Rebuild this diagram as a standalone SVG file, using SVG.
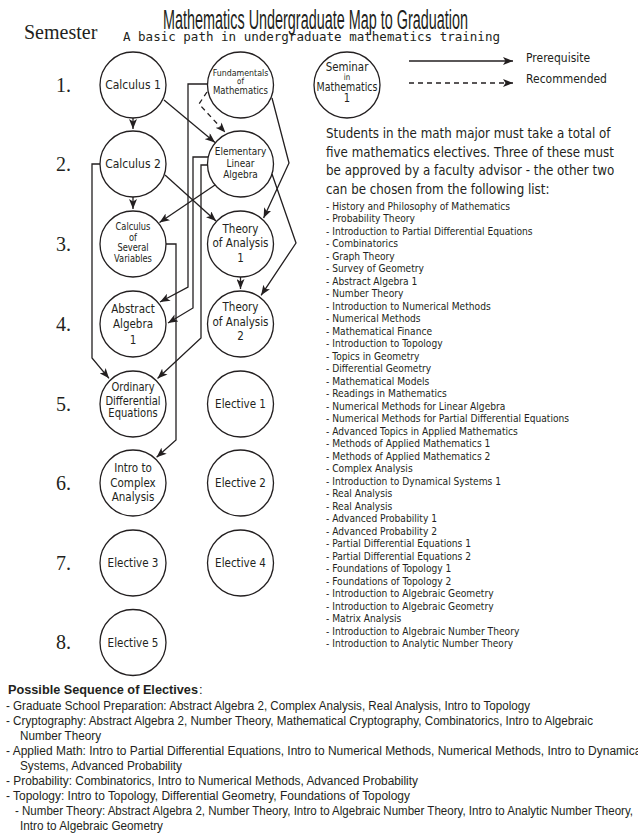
<svg xmlns="http://www.w3.org/2000/svg" width="638" height="834" viewBox="0 0 638 834">
<style>
.bg{fill:#fff}
.node circle{fill:#fff;stroke:#231f20;stroke-width:1.3}
.lbl{font-family:"DejaVu Sans",Verdana,sans-serif;text-anchor:middle;fill:#231f20}
.conn path{fill:none;stroke:#231f20;stroke-width:1.3;marker-end:url(#ah)}
.conn .dash{stroke-dasharray:5,4}
.num{font-family:"Liberation Serif","Times New Roman",serif;font-size:20px;fill:#231f20}
.txt{font-family:"DejaVu Sans",Verdana,sans-serif;fill:#231f20}
.bot{font-family:"Liberation Sans",Arial,sans-serif;font-size:12px;fill:#231f20}
</style>
<defs>
<marker id="ah" viewBox="0 0 10 8" refX="10" refY="4" markerUnits="userSpaceOnUse" markerWidth="10" markerHeight="8" orient="auto">
<path d="M0,0 L10,4 L0,8 L2.5,4 z" fill="#231f20"/>
</marker>
</defs>
<rect class="bg" x="0" y="0" width="638" height="834"/>

<g id="header">
<text x="163" y="29" font-family="'Liberation Sans Narrow','Liberation Sans',Arial,sans-serif" font-size="27" textLength="305" lengthAdjust="spacingAndGlyphs" fill="#231f20">Mathematics Undergraduate Map to Graduation</text>
<text x="123" y="41" font-family="'DejaVu Sans Mono','Liberation Mono',monospace" font-size="12.5" textLength="377" lengthAdjust="spacingAndGlyphs" fill="#231f20">A basic path in undergraduate mathematics training</text>
<text x="24" y="39" font-family="'Liberation Serif','Times New Roman',serif" font-size="20" fill="#231f20">Semester</text>
</g>

<g id="semesters">
<text class="num" x="56" y="92">1.</text>
<text class="num" x="56" y="171">2.</text>
<text class="num" x="56" y="251">3.</text>
<text class="num" x="56" y="331">4.</text>
<text class="num" x="56" y="411">5.</text>
<text class="num" x="56" y="490">6.</text>
<text class="num" x="56" y="570">7.</text>
<text class="num" x="56" y="649">8.</text>
</g>

<g id="connectors" class="conn">
<path d="M133,118 L133,129"/>
<path d="M164,100 L215,142.5"/>
<path class="dash" d="M207,92 L199,104 L225.4,132.5"/>
<path d="M208,84 L188,84 L188,287 L160,302"/>
<path d="M272,98 L289,163 L263.6,218"/>
<path d="M208.3,157 L193,157 L193,308 L168,323"/>
<path d="M207.5,165 L201,165 L201,338 L157.5,378.4"/>
<path d="M215,185 L159.5,222.5"/>
<path d="M165,175 L216,221"/>
<path d="M133,197 L133,209"/>
<path d="M100,164 L92,164 L92,358 L109,378.3"/>
<path d="M166,244 L176,244 L176,440 L156.6,457.3"/>
<path d="M272,174 L296,243 L261.1,295.3"/>
<path d="M240.5,277 L240.5,289"/>
</g>

<g id="calc1" class="node"><circle cx="133" cy="85" r="33"/>
<g class="lbl" transform="translate(133 0) scale(0.83 1)"><text x="0" y="89.5" font-size="13">Calculus 1</text></g></g>

<g id="fundamentals" class="node"><circle cx="240.5" cy="85" r="33"/>
<g class="lbl" transform="translate(240.5 0) scale(0.83 1)">
<text x="0" y="76" font-size="9.5">Fundamentals</text>
<text x="0" y="84.5" font-size="8.5">of</text>
<text x="0" y="94.5" font-size="10.3">Mathematics</text></g></g>

<g id="seminar" class="node"><circle cx="347" cy="85" r="33"/>
<g class="lbl" transform="translate(347 0) scale(0.83 1)">
<text x="0" y="71" font-size="12.4">Seminar</text>
<text x="0" y="80.5" font-size="8.5">in</text>
<text x="0" y="91.5" font-size="11.4">Mathematics</text>
<text x="0" y="102" font-size="12">1</text></g></g>

<g id="calc2" class="node"><circle cx="133" cy="164" r="33"/>
<g class="lbl" transform="translate(133 0) scale(0.83 1)"><text x="0" y="168.5" font-size="13">Calculus 2</text></g></g>

<g id="linalg" class="node"><circle cx="240.5" cy="164" r="33"/>
<g class="lbl" transform="translate(240.5 0) scale(0.83 1)">
<text x="0" y="155" font-size="10.8">Elementary</text>
<text x="0" y="167.5" font-size="10.8">Linear</text>
<text x="0" y="178" font-size="10.8">Algebra</text></g></g>

<g id="csv" class="node"><circle cx="133" cy="244" r="33"/>
<g class="lbl" transform="translate(133 0) scale(0.83 1)">
<text x="0" y="230.5" font-size="10">Calculus</text>
<text x="0" y="241.5" font-size="10">of</text>
<text x="0" y="251" font-size="10">Several</text>
<text x="0" y="262" font-size="10">Variables</text></g></g>

<g id="toa1" class="node"><circle cx="240.5" cy="244" r="33"/>
<g class="lbl" transform="translate(240.5 0) scale(0.83 1)">
<text x="0" y="233.5" font-size="12.5">Theory</text>
<text x="0" y="247.5" font-size="12.5">of Analysis</text>
<text x="0" y="262.5" font-size="12.5">1</text></g></g>

<g id="algebra1" class="node"><circle cx="133" cy="324" r="33"/>
<g class="lbl" transform="translate(133 0) scale(0.83 1)">
<text x="0" y="313.5" font-size="12.5">Abstract</text>
<text x="0" y="328.5" font-size="12.5">Algebra</text>
<text x="0" y="344.5" font-size="12.5">1</text></g></g>

<g id="toa2" class="node"><circle cx="240.5" cy="324" r="33"/>
<g class="lbl" transform="translate(240.5 0) scale(0.83 1)">
<text x="0" y="311.5" font-size="12.5">Theory</text>
<text x="0" y="326" font-size="12.5">of Analysis</text>
<text x="0" y="340.5" font-size="12.5">2</text></g></g>

<g id="ode" class="node"><circle cx="133" cy="404" r="33"/>
<g class="lbl" transform="translate(133 0) scale(0.83 1)">
<text x="0" y="391" font-size="12">Ordinary</text>
<text x="0" y="405" font-size="12">Differential</text>
<text x="0" y="417.5" font-size="12">Equations</text></g></g>

<g id="elective1" class="node"><circle cx="240.5" cy="404" r="33"/>
<g class="lbl" transform="translate(240.5 0) scale(0.83 1)"><text x="0" y="408.5" font-size="12.5">Elective 1</text></g></g>

<g id="complex" class="node"><circle cx="133" cy="483" r="33"/>
<g class="lbl" transform="translate(133 0) scale(0.83 1)">
<text x="0" y="472.5" font-size="12.5">Intro to</text>
<text x="0" y="487.5" font-size="12.5">Complex</text>
<text x="0" y="501" font-size="12.5">Analysis</text></g></g>

<g id="elective2" class="node"><circle cx="240.5" cy="483" r="33"/>
<g class="lbl" transform="translate(240.5 0) scale(0.83 1)"><text x="0" y="487.5" font-size="12.5">Elective 2</text></g></g>

<g id="elective3" class="node"><circle cx="133" cy="563" r="33"/>
<g class="lbl" transform="translate(133 0) scale(0.83 1)"><text x="0" y="567.5" font-size="12.5">Elective 3</text></g></g>

<g id="elective4" class="node"><circle cx="240.5" cy="563" r="33"/>
<g class="lbl" transform="translate(240.5 0) scale(0.83 1)"><text x="0" y="567.5" font-size="12.5">Elective 4</text></g></g>

<g id="elective5" class="node"><circle cx="133" cy="642.5" r="33"/>
<g class="lbl" transform="translate(133 0) scale(0.83 1)"><text x="0" y="647" font-size="12.5">Elective 5</text></g></g>

<g id="legend">
<g class="conn"><path d="M409,61 L513,61"/><path class="dash" d="M409,83 L513,83"/></g>
<g class="txt" transform="translate(526 0) scale(0.83 1)">
<text x="0" y="62" font-size="13">Prerequisite</text>
<text x="0" y="83" font-size="13">Recommended</text></g>
</g>

<g id="paragraph" class="txt" transform="translate(326 0) scale(0.85 1)" font-size="14">
<text x="0" y="138">Students in the math major must take a total of</text>
<text x="0" y="157">five mathematics electives.  Three of these must</text>
<text x="0" y="175.5">be approved by a faculty advisor - the other two</text>
<text x="0" y="194">can be chosen from the following list:</text>
</g>

<g id="electives-list" class="txt" transform="translate(326 0) scale(0.83 1)" font-size="11">
<text x="0" y="209.7">- History and Philosophy of Mathematics</text>
<text x="0" y="222.2">- Probability Theory</text>
<text x="0" y="234.7">- Introduction to Partial Differential Equations</text>
<text x="0" y="247.2">- Combinatorics</text>
<text x="0" y="259.7">- Graph Theory</text>
<text x="0" y="272.2">- Survey of Geometry</text>
<text x="0" y="284.7">- Abstract Algebra 1</text>
<text x="0" y="297.2">- Number Theory</text>
<text x="0" y="309.7">- Introduction to Numerical Methods</text>
<text x="0" y="322.2">- Numerical Methods</text>
<text x="0" y="334.7">- Mathematical Finance</text>
<text x="0" y="347.2">- Introduction to Topology</text>
<text x="0" y="359.7">- Topics in Geometry</text>
<text x="0" y="372.2">- Differential Geometry</text>
<text x="0" y="384.7">- Mathematical Models</text>
<text x="0" y="397.2">- Readings in Mathematics</text>
<text x="0" y="409.7">- Numerical Methods for Linear Algebra</text>
<text x="0" y="422.2">- Numerical Methods for Partial Differential Equations</text>
<text x="0" y="434.7">- Advanced Topics in Applied Mathematics</text>
<text x="0" y="447.2">- Methods of Applied Mathematics 1</text>
<text x="0" y="459.7">- Methods of Applied Mathematics 2</text>
<text x="0" y="472.2">- Complex Analysis</text>
<text x="0" y="484.7">- Introduction to Dynamical Systems 1</text>
<text x="0" y="497.2">- Real Analysis</text>
<text x="0" y="509.7">- Real Analysis</text>
<text x="0" y="522.2">- Advanced Probability 1</text>
<text x="0" y="534.7">- Advanced Probability 2</text>
<text x="0" y="547.2">- Partial Differential Equations 1</text>
<text x="0" y="559.7">- Partial Differential Equations 2</text>
<text x="0" y="572.2">- Foundations of Topology 1</text>
<text x="0" y="584.7">- Foundations of Topology 2</text>
<text x="0" y="597.2">- Introduction to Algebraic Geometry</text>
<text x="0" y="609.7">- Introduction to Algebraic Geometry</text>
<text x="0" y="622.2">- Matrix Analysis</text>
<text x="0" y="634.7">- Introduction to Algebraic Number Theory</text>
<text x="0" y="647.2">- Introduction to Analytic Number Theory</text>
</g>

<g id="sequences">
<text x="8" y="694" font-family="'Liberation Sans',Arial,sans-serif" font-size="13" font-weight="bold" fill="#231f20" textLength="190" lengthAdjust="spacingAndGlyphs">Possible Sequence of Electives</text>
<text x="199" y="694" font-family="'Liberation Sans',Arial,sans-serif" font-size="13" fill="#231f20">:</text>
<text class="bot" x="6" y="710" textLength="524" lengthAdjust="spacingAndGlyphs">- Graduate School Preparation: Abstract Algebra 2, Complex Analysis, Real Analysis, Intro to Topology</text>
<text class="bot" x="6" y="725" textLength="587" lengthAdjust="spacingAndGlyphs">- Cryptography: Abstract Algebra 2, Number Theory, Mathematical Cryptography, Combinatorics, Intro to Algebraic</text>
<text class="bot" x="20" y="740" textLength="81" lengthAdjust="spacingAndGlyphs">Number Theory</text>
<text class="bot" x="6" y="755" textLength="638" lengthAdjust="spacingAndGlyphs">- Applied Math:  Intro to Partial Differential Equations, Intro to Numerical Methods, Numerical Methods, Intro to Dynamical</text>
<text class="bot" x="20" y="770" textLength="162" lengthAdjust="spacingAndGlyphs">Systems, Advanced Probability</text>
<text class="bot" x="6" y="785" textLength="412" lengthAdjust="spacingAndGlyphs">- Probability: Combinatorics, Intro to Numerical Methods, Advanced Probability</text>
<text class="bot" x="6" y="800" textLength="404" lengthAdjust="spacingAndGlyphs">- Topology: Intro to Topology, Differential Geometry, Foundations of Topology</text>
<text class="bot" x="15" y="815" textLength="618" lengthAdjust="spacingAndGlyphs">- Number Theory: Abstract Algebra 2, Number Theory, Intro to Algebraic Number Theory, Intro to Analytic Number Theory,</text>
<text class="bot" x="20" y="830" textLength="143" lengthAdjust="spacingAndGlyphs">Intro to Algebraic Geometry</text>
</g>
</svg>
